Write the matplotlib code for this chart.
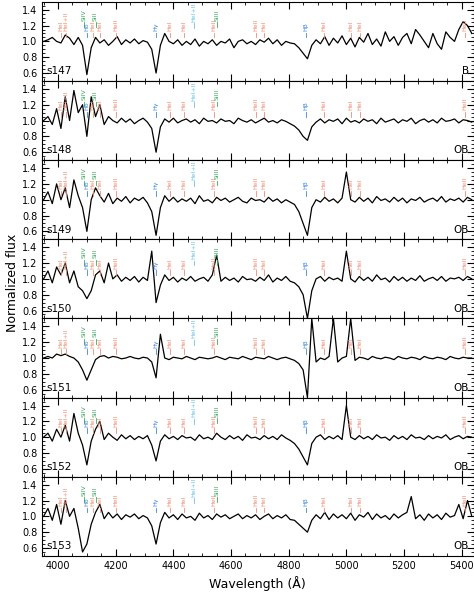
import numpy as np
import matplotlib
matplotlib.use("Agg")
import matplotlib.pyplot as plt
from matplotlib.ticker import MultipleLocator

wave = list(range(3950, 5450, 15))  # 100 samples

names = ["s147", "s148", "s149", "s150", "s151", "s152", "s153"]
classes = ["B", "OB", "OB", "OB", "OB", "OB", "OB"]

flux_s147 = [1.0,1.02,1.05,1.0,0.98,1.08,1.04,0.96,1.05,0.95,
 0.58,0.92,1.05,0.98,1.02,0.95,1.0,1.06,0.96,1.02,
 0.98,1.03,0.97,1.01,0.99,0.9,0.6,0.95,1.1,1.0,
 0.97,1.02,0.95,1.0,0.96,1.03,0.94,1.0,0.97,1.02,
 0.95,1.0,0.98,1.03,0.92,1.0,1.02,0.97,1.0,0.96,
 1.02,0.99,1.04,0.97,1.02,0.95,1.0,0.98,0.97,0.92,
 0.85,0.78,0.95,1.02,0.97,1.06,0.95,1.04,0.98,1.07,
 0.96,1.04,0.93,1.05,0.99,1.1,0.96,1.03,0.94,1.12,
 1.0,1.06,0.95,1.05,1.1,0.97,1.15,1.08,1.0,0.92,
 1.1,0.97,0.9,1.12,1.05,1.0,1.15,1.25,1.2,1.1]
flux_s148 = [1.0,1.05,0.95,1.15,0.9,1.3,1.0,1.38,1.1,1.2,
 0.8,1.3,1.05,1.2,0.95,1.05,1.0,0.97,1.03,0.98,
 1.02,0.96,1.0,1.03,0.98,0.9,0.6,0.92,1.02,0.98,
 1.03,0.97,1.0,1.02,0.98,1.01,0.96,1.03,0.99,1.0,
 0.97,1.02,0.99,1.0,0.96,1.03,1.0,0.98,1.01,0.97,
 1.0,1.03,0.98,1.0,0.97,1.01,0.99,0.96,0.93,0.88,
 0.8,0.75,0.92,0.98,1.02,0.97,1.01,0.99,1.02,0.96,
 1.03,0.98,1.0,0.97,1.02,0.99,1.01,0.96,1.03,0.98,
 1.0,1.02,0.97,1.01,0.99,1.03,0.96,1.0,1.02,0.98,
 1.01,0.97,1.03,0.99,1.0,1.02,0.97,1.01,1.0,0.98]
flux_s149 = [1.0,1.1,0.95,1.2,1.0,1.15,0.9,1.25,1.05,0.9,
 0.6,1.0,1.15,1.05,0.97,1.08,0.95,1.02,0.98,1.04,
 0.96,1.02,0.99,1.03,0.96,0.85,0.55,0.9,1.05,0.98,
 1.03,0.97,1.01,0.98,1.02,0.95,1.05,0.98,1.0,0.96,
 1.03,0.99,1.02,0.97,1.0,1.03,0.98,0.96,1.02,0.99,
 1.0,0.97,1.03,0.98,1.01,0.96,1.0,0.97,0.94,0.85,
 0.7,0.55,0.9,1.0,0.97,1.03,0.98,1.01,0.96,1.02,
 1.35,1.0,0.97,1.03,0.98,1.02,0.96,1.04,0.99,1.01,
 0.97,1.03,0.98,1.02,0.96,1.01,0.99,1.03,0.97,1.0,
 1.02,0.98,1.04,0.97,1.01,0.99,1.02,0.97,1.03,1.0]
flux_s150 = [1.0,1.1,0.95,1.15,1.05,1.2,0.95,1.1,0.9,0.85,
 0.75,0.85,1.05,1.1,0.95,1.2,1.0,1.05,0.97,1.02,
 0.98,1.03,0.96,1.02,0.98,1.35,0.7,0.92,1.05,0.98,
 1.02,0.96,1.01,0.98,1.03,0.97,1.0,1.02,0.97,1.05,
 1.3,0.97,1.02,0.98,1.01,0.96,1.03,0.99,1.0,0.97,
 1.02,0.98,1.05,0.96,1.01,0.98,1.03,0.97,0.95,0.9,
 0.8,0.5,0.85,1.0,1.03,0.97,1.02,0.99,1.01,0.97,
 1.35,1.0,0.96,1.03,0.98,1.02,0.97,1.05,0.99,1.01,
 0.96,1.03,0.98,1.02,0.97,1.01,0.98,1.04,0.97,1.0,
 1.02,0.98,1.03,0.97,1.01,1.0,1.02,0.98,1.03,1.0]
flux_s151 = [1.0,1.02,1.0,1.05,1.03,1.05,1.02,1.0,0.95,0.85,
 0.72,0.85,0.98,1.02,1.03,1.0,1.02,1.01,0.99,1.0,
 1.02,1.0,0.99,1.01,1.0,0.95,0.75,1.3,1.0,0.98,
 1.01,1.0,0.99,1.02,1.0,0.98,1.01,1.0,0.99,1.0,
 1.02,1.0,0.98,1.01,1.0,0.99,1.02,1.0,0.98,1.01,
 1.0,0.99,1.02,1.0,0.98,1.0,1.01,0.99,0.97,0.93,
 0.85,0.5,1.5,0.95,1.0,0.98,1.02,1.5,0.95,1.0,
 1.02,1.5,0.97,1.01,1.0,0.98,1.02,1.0,0.99,1.01,
 1.0,0.98,1.02,1.0,0.99,1.01,1.0,0.98,1.02,1.0,
 0.99,1.01,1.0,0.98,1.02,1.0,0.99,1.01,1.0,1.0]
flux_s152 = [1.0,1.05,0.95,1.1,1.0,1.15,0.95,1.3,1.05,0.9,
 0.65,0.95,1.1,1.2,0.97,1.05,1.0,0.96,1.03,0.98,
 1.02,0.97,1.01,0.98,1.02,0.9,0.7,0.95,1.03,0.98,
 1.01,0.97,1.02,0.99,1.0,0.96,1.03,0.98,1.0,0.97,
 1.05,1.0,0.97,1.02,0.98,1.01,0.96,1.03,0.99,1.0,
 0.97,1.02,0.98,1.01,0.97,1.03,0.99,0.96,0.92,0.85,
 0.75,0.65,0.92,1.0,1.03,0.97,1.01,0.98,1.02,0.97,
 1.4,1.0,0.97,1.02,0.98,1.01,0.97,1.03,0.99,1.0,
 0.96,1.02,0.98,1.01,0.97,1.03,0.99,1.0,0.97,1.02,
 0.98,1.01,0.99,1.03,0.97,1.0,1.02,0.98,1.01,1.0]
flux_s153 = [1.0,1.1,0.95,1.15,0.9,1.2,1.0,1.1,0.85,0.55,
 0.65,0.9,1.05,1.15,0.97,1.05,0.98,1.03,0.96,1.02,
 0.99,1.03,0.97,1.01,0.98,0.88,0.65,0.92,1.05,0.98,
 1.02,0.96,1.03,0.98,1.0,0.95,1.04,0.98,1.01,0.96,
 1.03,0.99,1.02,0.97,1.0,1.03,0.97,1.01,0.98,1.02,
 0.96,1.0,1.03,0.97,1.01,0.98,1.02,0.96,0.95,0.9,
 0.85,0.8,0.95,1.02,0.97,1.05,0.96,1.03,0.98,1.02,
 0.97,1.04,0.95,1.02,0.99,1.05,0.96,1.03,0.98,1.01,
 0.96,1.03,0.98,1.02,1.05,1.25,0.97,1.02,0.95,1.03,
 0.98,1.02,0.96,1.04,0.99,1.01,1.15,0.97,1.2,1.0]
fluxes = [flux_s147, flux_s148, flux_s149, flux_s150, flux_s151, flux_s152, flux_s153]

line_names = ["HeI", "HeI+II", "SiIV", "Hδ", "HeI", "SiII", "HeI", "HeII",
              "Hγ", "HeI", "HeI", "HeI+II", "HeII", "SiIII",
              "HeII", "HeI", "Hβ", "HeI", "HeI", "HeI", "HeII"]
line_waves = [4009, 4026, 4089, 4101, 4121, 4130, 4144, 4200,
              4340, 4388, 4437, 4471, 4541, 4553,
              4686, 4713, 4861, 4922, 5016, 5048, 5411]
line_kinds = ["he", "he", "si", "h", "he", "si", "he", "he",
              "h", "he", "he", "hei2", "he", "si",
              "he", "he", "h", "he", "he", "he", "he"]
kind_color = {"he": "#f08a70", "si": "#3aa860", "h": "#3a86d8", "hei2": "#6cc0e8"}
kind_y = {"he": 1.13, "si": 1.26, "h": 1.13, "hei2": 1.25}

fig, axes = plt.subplots(7, 1, figsize=(4.74, 6.01), dpi=100, sharex=True)
fig.subplots_adjust(left=0.089, right=0.999, top=0.997, bottom=0.075, hspace=0)
for ax, name, cls, fl in zip(axes, names, classes, fluxes):
    ax.plot(wave, fl, color="black", lw=0.9)
    ax.set_xlim(3945, 5441)
    ax.set_ylim(0.5, 1.5)
    ax.yaxis.set_minor_locator(MultipleLocator(0.05))
    ax.xaxis.set_minor_locator(MultipleLocator(50))
    ax.tick_params(axis="both", which="both", direction="in", top=True, right=True, labelsize=7)
    ax.tick_params(which="major", length=5)
    ax.tick_params(which="minor", length=2.5)
    ax.set_yticks([0.6, 0.8, 1.0, 1.2, 1.4])
    for lw_, ln, k in zip(line_waves, line_names, line_kinds):
        c = kind_color[k]
        y = kind_y[k]
        ax.text(lw_, y, ln, rotation=90, color=c, fontsize=4.5, ha="center", va="bottom")
        ax.plot([lw_, lw_], [y - 0.08, y - 0.02], color=c, lw=0.6)
    ax.text(3960, 0.56, name, fontsize=7.5, ha="left", va="bottom")
    ax.text(5425, 0.56, cls, fontsize=7.5, ha="right", va="bottom")
axes[-1].set_xticks([4000, 4200, 4400, 4600, 4800, 5000, 5200, 5400])
axes[-1].set_xlabel("Wavelength (Å)", fontsize=9)
fig.text(0.012, 0.53, "Normalized flux", rotation=90, fontsize=9, va="center", ha="left")
fig.savefig("out.png", dpi=100)
